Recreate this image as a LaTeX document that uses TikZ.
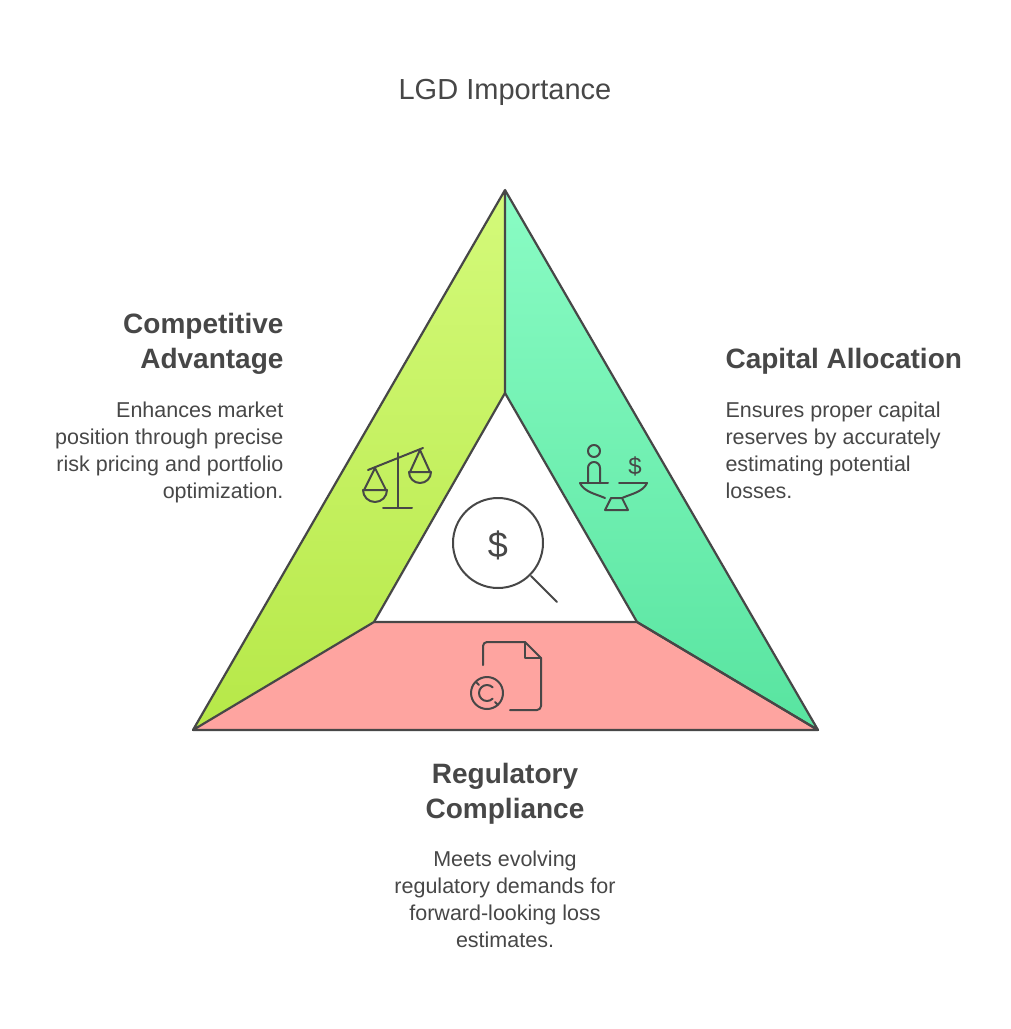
\documentclass[tikz,border=0pt]{standalone}
\usepackage{fontspec}
\setmainfont{Liberation Sans}
\definecolor{gtop}{RGB}{212,250,122}
\definecolor{gbot}{RGB}{182,232,72}
\definecolor{ttop}{RGB}{138,252,196}
\definecolor{tbot}{RGB}{88,228,160}
\definecolor{rfill}{RGB}{254,164,160}
\begin{document}
\begin{tikzpicture}[x=1pt,y=-1pt,
  seg/.style={draw=black!72,line width=2.2pt,line join=round},
  ico/.style={draw=black!72,line width=2pt,line cap=round,line join=round},
  head/.style={font=\bfseries\fontsize{28}{35}\selectfont,text=black!72},
  body/.style={font=\fontsize{21.5}{27}\selectfont,text=black!72}]
\useasboundingbox (0,0) rectangle (1011,1029);
\fill[white] (0,0) rectangle (1011,1029);
\coordinate (T) at (505,190); \coordinate (L) at (193,730); \coordinate (R) at (818,730);
\coordinate (it) at (505,393); \coordinate (il) at (374,622); \coordinate (ir) at (637,622);
\shade[top color=gtop,bottom color=gbot] (T)--(it)--(il)--(L)--cycle;
\shade[top color=ttop,bottom color=tbot] (T)--(R)--(ir)--(it)--cycle;
\fill[rfill] (L)--(il)--(ir)--(R)--cycle;
\draw[seg] (T)--(it)--(il)--(L)--cycle;
\draw[seg] (T)--(R)--(ir)--(it);
\draw[seg] (il)--(ir)--(R)--(L);
% scale icon
\draw[ico] (368,470)--(423,448);
\draw[ico] (398,453)--(398,508) (383,508)--(412,508);
\draw[ico] (364,490)--(375,468)--(386,490) (363,490)--(387,490);
\draw[ico] (363,490) arc[start angle=180,end angle=0,radius=12];
\draw[ico] (410,472)--(420,450)--(430,472) (409,472)--(431,472);
\draw[ico] (409,472) arc[start angle=180,end angle=0,radius=11];
% capital icon
\draw[ico] (594,451) circle[radius=6];
\draw[ico] (588,483)--(588,468) arc[start angle=180,end angle=360,radius=6]--(600,483);
\draw[ico] (580,483)--(608,483) (619,483)--(647,483);
\draw[ico] (580,483) .. controls (584,492) and (596,494) .. (605,498);
\draw[ico] (647,483) .. controls (643,492) and (631,494) .. (622,498);
\draw[ico] (605,510)--(611,498)--(622,498)--(628,510)--cycle;
\node[font=\fontsize{24}{26}\selectfont,text=black!72] (d1) at (635,466) {\$};
% magnifier
\draw[ico] (498,543) circle[radius=45];
\draw[ico] (531,576)--(557,602);
\node[font=\fontsize{36}{40}\selectfont,text=black!72] (d2) at (498,545) {\$};
% document icon
\draw[ico,rounded corners=4pt] (483,665)--(483,642)--(525,642);
\draw[ico] (525,642)--(541,658);
\draw[ico,rounded corners=4pt] (541,658)--(541,710)--(510,710);
\draw[ico] (525,642)--(525,658)--(541,658);
\draw[ico] (487,693) circle[radius=16];
\draw[ico] (487,693) ++(45:8) arc[start angle=45,end angle=315,radius=8];
\draw[ico] (476,682)--(479,685) (495,702)--(498,705);
% texts
\node[font=\fontsize{29}{32}\selectfont,text=black!72] (title) at (505,92) {LGD Importance};
\node[head,align=right,anchor=east] (h1) at (287,344) {Competitive\\Advantage};
\node[body,align=right,anchor=north east] (b1) at (287,398) {Enhances market\\position through precise\\risk pricing and portfolio\\optimization.};
\node[head,anchor=west] (h2) at (722,361) {Capital Allocation};
\node[body,align=left,anchor=north west] (b2) at (722,398) {Ensures proper capital\\reserves by accurately\\estimating potential\\losses.};
\node[head,align=center] (h3) at (505,794) {Regulatory\\Compliance};
\node[body,align=center,anchor=north] (b3) at (505,847) {Meets evolving\\regulatory demands for\\forward-looking loss\\estimates.};
\end{tikzpicture}
\end{document}
